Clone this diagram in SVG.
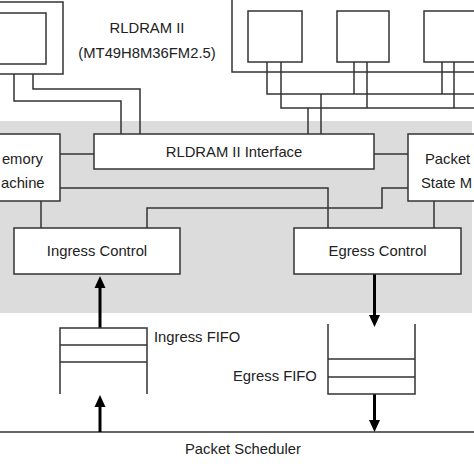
<svg xmlns="http://www.w3.org/2000/svg" width="474" height="474" viewBox="0 0 474 474">
<style>
.box{fill:#fff;stroke:#333;stroke-width:1.5}
.ln{fill:none;stroke:#333;stroke-width:1.5}
.arr{fill:none;stroke:#000;stroke-width:3}
text{font-family:"Liberation Sans",Arial,sans-serif;font-size:14.8px;fill:#222}
</style>
<defs>
<marker id="ah" markerUnits="userSpaceOnUse" markerWidth="12" markerHeight="12" refX="6" refY="6" orient="auto" viewBox="0 0 12 12">
<path d="M0,0.5 L12,6 L0,11.5 z" fill="#000"/>
</marker>
</defs>
<rect x="0" y="0" width="474" height="474" fill="#fff"/>
<rect id="chip-region" x="0" y="121" width="472" height="192" fill="#dcdcdc"/>

<g id="rldram-left">
<rect class="box" x="-10" y="2" width="73" height="72"/>
<rect class="box" x="-10" y="13" width="56" height="51"/>
</g>
<g id="rldram-label">
<text x="147" y="33" text-anchor="middle">RLDRAM II</text>
<text x="147" y="58" text-anchor="middle">(MT49H8M36FM2.5)</text>
</g>
<g id="rldram-right">
<rect class="box" x="232" y="-10" width="260" height="82"/>
<rect class="box" x="248" y="11" width="54" height="51"/>
<rect class="box" x="337" y="11" width="52" height="51"/>
<rect class="box" x="424" y="11" width="60" height="51"/>
</g>

<g id="connectors">
<path class="ln" d="M14,74 V101 H121 V134"/>
<path class="ln" d="M33,74 V89 H140 V134"/>
<path class="ln" d="M267,62 V94 H474"/>
<path class="ln" d="M281,62 V108 H474"/>
<path class="ln" d="M354,62 V94"/>
<path class="ln" d="M367,62 V108"/>
<path class="ln" d="M442,62 V94"/>
<path class="ln" d="M454,62 V108"/>
<path class="ln" d="M321,94 V134"/>
<path class="ln" d="M308,108 V134"/>
<path class="ln" d="M60,154 H94"/>
<path class="ln" d="M374,154 H408"/>
<path class="ln" d="M60,188 H328 V228"/>
<path class="ln" d="M147,228 V208 H382 V188 H408"/>
<path class="ln" d="M41,201 V228"/>
<path class="ln" d="M434,201 V228"/>
<path class="ln" d="M0,432 H474"/>
<path class="arr" d="M100,328 V282" marker-end="url(#ah)"/>
<path class="arr" d="M100,432 V401" marker-end="url(#ah)"/>
<path class="arr" d="M374.5,274 V321" marker-end="url(#ah)"/>
<path class="arr" d="M374.5,394 V426" marker-end="url(#ah)"/>
</g>

<g id="interface">
<rect class="box" x="94" y="134" width="280" height="35"/>
<text x="234" y="156.5" text-anchor="middle">RLDRAM II Interface</text>
</g>
<g id="memory-sm">
<rect class="box" x="-10" y="134" width="70" height="67"/>
<text x="43" y="164" text-anchor="end">emory</text>
<text x="1" y="188">achine</text>
</g>
<g id="packet-sm">
<rect class="box" x="408" y="134" width="80" height="67"/>
<text x="425" y="163.5">Packet</text>
<text x="472" y="188" text-anchor="end">State M</text>
</g>
<g id="ingress-control">
<rect class="box" x="14" y="228" width="166" height="46"/>
<text x="97" y="256" text-anchor="middle">Ingress Control</text>
</g>
<g id="egress-control">
<rect class="box" x="294" y="228" width="167" height="46"/>
<text x="377.5" y="256" text-anchor="middle">Egress Control</text>
</g>
<g id="ingress-fifo">
<path class="ln" d="M60,394 V328 H147 V394 M60,345 H147 M60,362 H147"/>
<text x="154" y="342">Ingress FIFO</text>
</g>
<g id="egress-fifo">
<path class="ln" d="M328,324 V394 H415 V324 M328,359 H415 M328,377 H415"/>
<text x="233" y="381">Egress FIFO</text>
</g>
<g id="scheduler">
<text x="185" y="454">Packet Scheduler</text>
</g>
</svg>
